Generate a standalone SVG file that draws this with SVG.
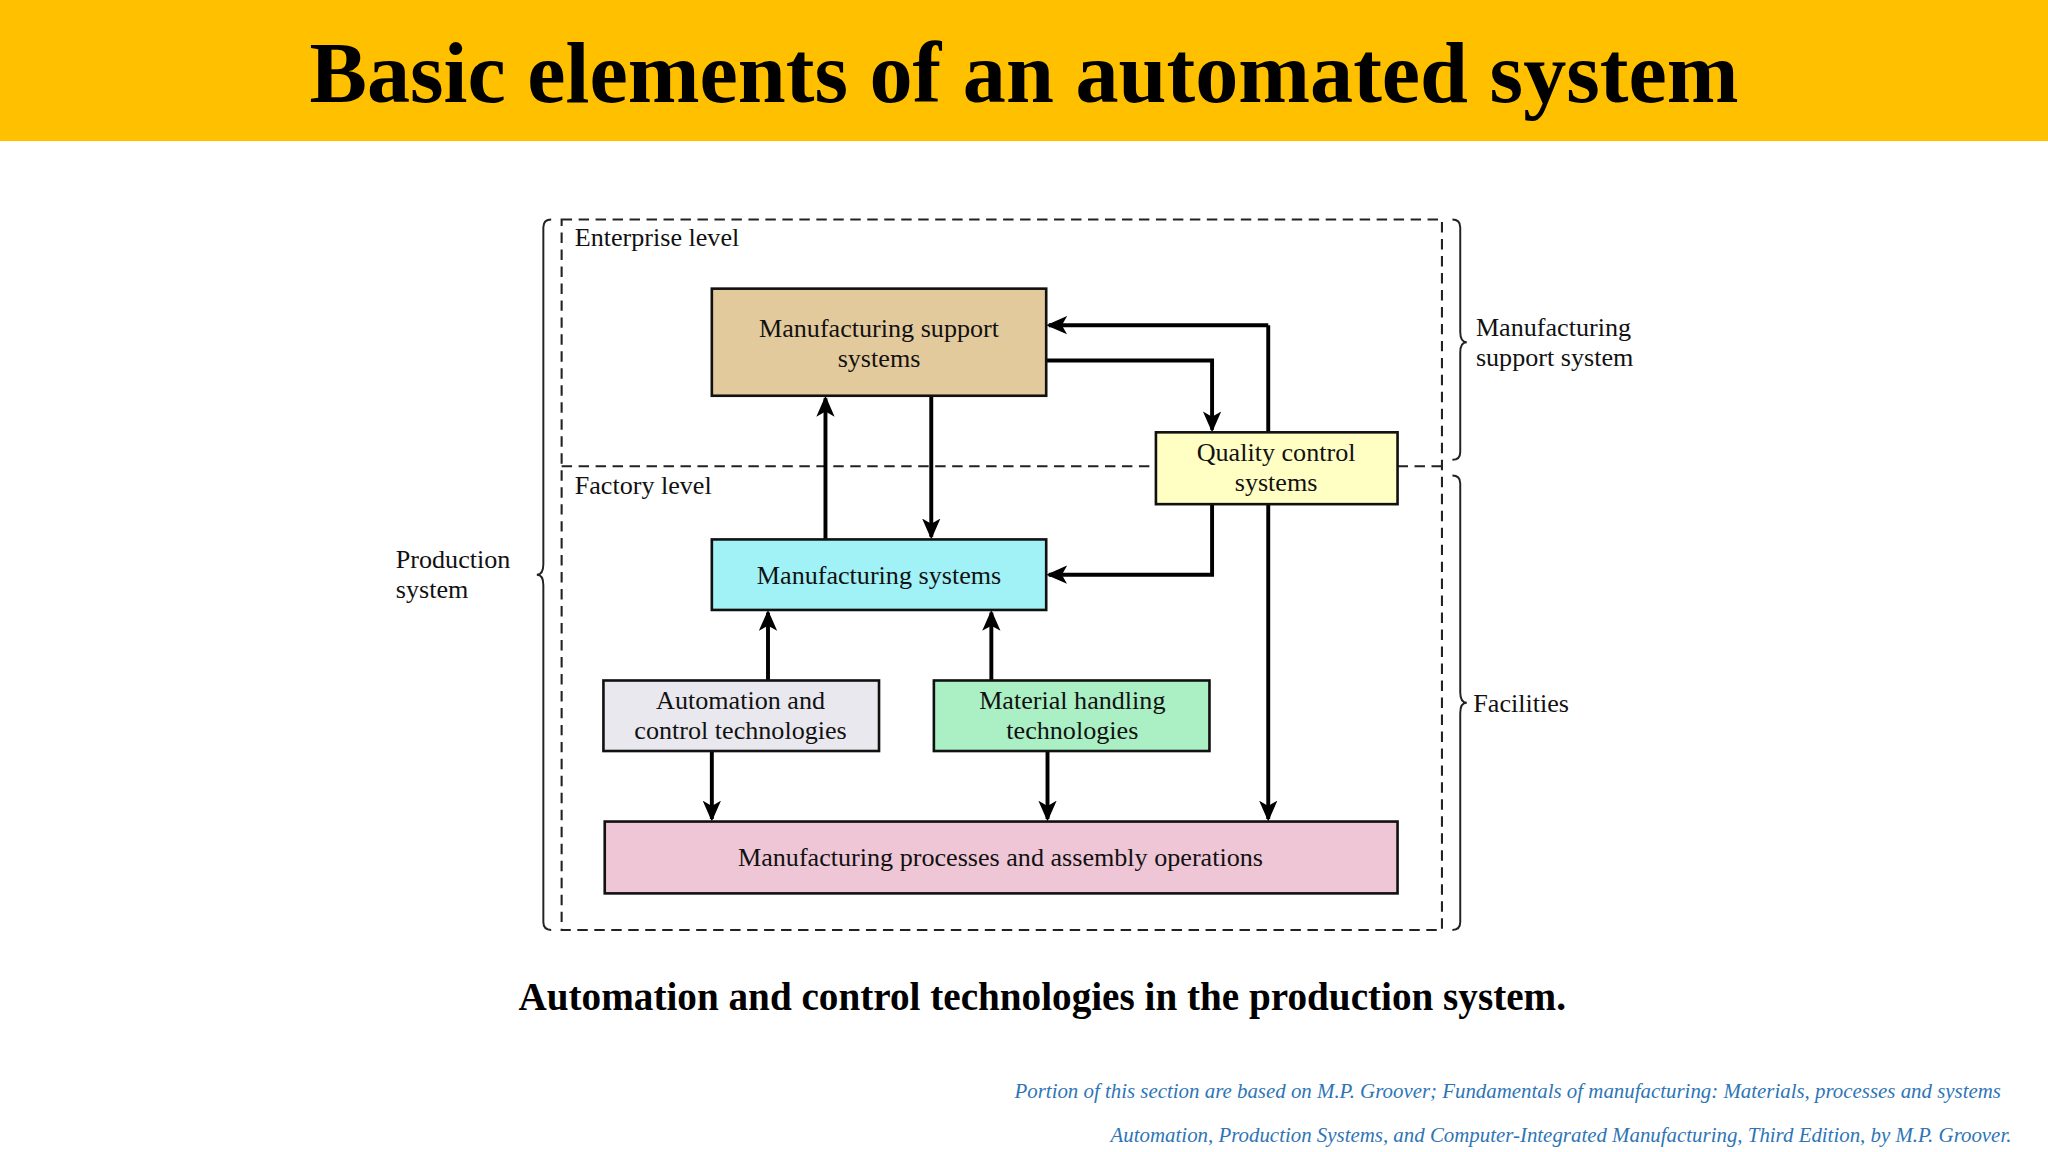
<svg xmlns="http://www.w3.org/2000/svg" width="2048" height="1152" viewBox="0 0 2048 1152">
<style>
.t{font-family:"Liberation Serif",serif;font-size:20px;fill:#111}
.b{stroke:#111;stroke-width:2}
.c{fill:none;stroke:#000;stroke-width:3}
.d{fill:none;stroke:#222;stroke-width:1.6;stroke-dasharray:8 5}
.br{fill:none;stroke:#222;stroke-width:1.5}
.f{font-family:"Liberation Serif",serif;font-style:italic;font-size:16px;fill:#2E75B6;text-anchor:end}
</style>
<defs><marker id="a" markerWidth="8" markerHeight="8" refX="7" refY="4" orient="auto" markerUnits="userSpaceOnUse" viewBox="0 0 8 8"><path d="M0,0L8,4L0,8L2,4z" fill="#000"/></marker>
<marker id="m" markerWidth="16" markerHeight="16" refX="14" refY="8" orient="auto" markerUnits="userSpaceOnUse" viewBox="0 0 16 16"><path d="M0,1L16,8L0,15L4,8z" fill="#000"/></marker></defs>
<rect width="2048" height="1152" fill="#fff"/>
<g transform="scale(1.30612)">
<rect x="0" y="0" width="1568" height="108" fill="#FFC000"/>
<text x="784" y="78" text-anchor="middle" font-family="Liberation Serif,serif" font-weight="bold" font-size="66">Basic elements of an automated system</text>
<g id="frame">
<rect x="430" y="168" width="674" height="544" class="d"/>
<path d="M430,357H885M1070,357H1104" class="d"/>
<path d="M422,168q-6,0-6,6V432q0,8-5,8q5,0,5,8V706q0,6,6,6" class="br"/>
<path d="M1112,168q6,0,6,6V254q0,8,5,8q-5,0-5,8V346q0,6-6,6" class="br"/>
<path d="M1112,364q6,0,6,6V530q0,8,5,8q-5,0-5,8V706q0,6-6,6" class="br"/>
<text class="t" x="440" y="188">Enterprise level</text>
<text class="t" x="440" y="378">Factory level</text>
<text class="t" x="303" y="435">Production</text><text class="t" x="303" y="458">system</text>
<text class="t" x="1130" y="257">Manufacturing</text><text class="t" x="1130" y="280">support system</text>
<text class="t" x="1128" y="545">Facilities</text>
</g>
<g id="connectors">
<path class="c" marker-end="url(#m)" d="M632,413V305"/>
<path class="c" marker-end="url(#m)" d="M713,303V411"/>
<path class="c" marker-end="url(#m)" d="M801,276H928V329"/>
<path class="c" marker-end="url(#m)" d="M971,249H803"/>
<path class="c" marker-end="url(#m)" d="M971,249V627"/>
<path class="c" marker-end="url(#m)" d="M928,386V440H803"/>
<path class="c" marker-end="url(#m)" d="M588,521V469"/>
<path class="c" marker-end="url(#m)" d="M759,521V469"/>
<path class="c" marker-end="url(#m)" d="M545,575V627"/>
<path class="c" marker-end="url(#m)" d="M802,575V627"/>
</g>
<g id="mss"><rect class="b" x="545" y="221" width="256" height="82" fill="#E3CA9C"/><text class="t" x="673" y="258" text-anchor="middle">Manufacturing support</text><text class="t" x="673" y="281" text-anchor="middle">systems</text></g>
<g id="qcs"><rect class="b" x="885" y="331" width="185" height="55" fill="#FFFFC4"/><text class="t" x="977" y="353" text-anchor="middle">Quality control</text><text class="t" x="977" y="376" text-anchor="middle">systems</text></g>
<g id="ms"><rect class="b" x="545" y="413" width="256" height="54" fill="#A0F2F6"/><text class="t" x="673" y="447" text-anchor="middle">Manufacturing systems</text></g>
<g id="act"><rect class="b" x="462" y="521" width="211" height="54" fill="#E9E8EE"/><text class="t" x="567" y="543" text-anchor="middle">Automation and</text><text class="t" x="567" y="566" text-anchor="middle">control technologies</text></g>
<g id="mht"><rect class="b" x="715" y="521" width="211" height="54" fill="#AAF0C4"/><text class="t" x="821" y="543" text-anchor="middle">Material handling</text><text class="t" x="821" y="566" text-anchor="middle">technologies</text></g>
<g id="mpao"><rect class="b" x="463" y="629" width="607" height="55" fill="#EEC6D6"/><text class="t" x="766" y="663" text-anchor="middle">Manufacturing processes and assembly operations</text></g>
<text x="798" y="773" text-anchor="middle" font-family="Liberation Serif,serif" font-weight="bold" font-size="30">Automation and control technologies in the production system.</text>
<text class="f" x="1532" y="841">Portion of this section are based on M.P. Groover; Fundamentals of manufacturing: Materials, processes and systems</text>
<text class="f" x="1540" y="874">Automation, Production Systems, and Computer-Integrated Manufacturing, Third Edition, by M.P. Groover.</text>
</g>
</svg>
